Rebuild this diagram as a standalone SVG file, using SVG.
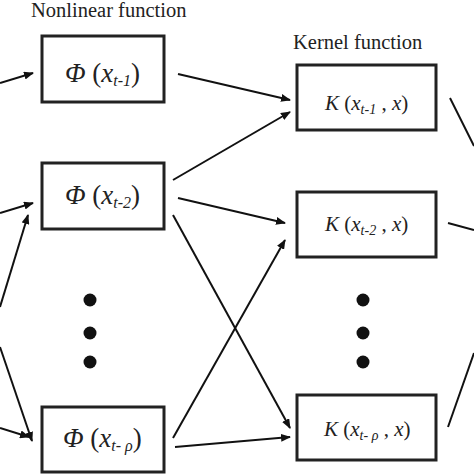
<svg xmlns="http://www.w3.org/2000/svg" width="474" height="474" viewBox="0 0 474 474">
<style>
.box{fill:#fff;stroke:#222;stroke-width:3}
.ln{stroke:#111;stroke-width:2;fill:none}
.arr{marker-end:url(#ah)}
.lbl{font-family:"Liberation Serif","Times New Roman",serif;font-size:20.5px;fill:#222}
.phi{font-family:"Liberation Serif","Times New Roman",serif;font-size:27px;fill:#222;font-style:italic}
.ker{font-family:"Liberation Serif","Times New Roman",serif;font-size:21px;fill:#222;font-style:italic}
.up{font-style:normal}
.s1{font-size:16px}
.s2{font-size:14px}
.dot{fill:#111}
</style>
<defs>
<marker id="ah" markerUnits="userSpaceOnUse" markerWidth="10" markerHeight="8" refX="9" refY="4" orient="auto">
<path d="M0,0 L10,4 L0,8 z" fill="#111"/>
</marker>
</defs>
<rect width="474" height="474" fill="#fff"/>
<text class="lbl" x="31" y="17">Nonlinear function</text>
<text class="lbl" x="293" y="49">Kernel function</text>
<g id="connectors">
<line class="ln arr" x1="0" y1="83" x2="33" y2="73"/>
<line class="ln arr" x1="0" y1="213" x2="33" y2="203"/>
<line class="ln arr" x1="0" y1="307" x2="28" y2="215"/>
<line class="ln arr" x1="0" y1="347" x2="32" y2="441"/>
<line class="ln arr" x1="0" y1="428" x2="29" y2="437"/>
<line class="ln arr" x1="178" y1="74" x2="290" y2="100"/>
<line class="ln arr" x1="173" y1="180" x2="290" y2="112"/>
<line class="ln arr" x1="178" y1="198" x2="285" y2="223"/>
<line class="ln arr" x1="173" y1="215" x2="290" y2="428"/>
<line class="ln arr" x1="173" y1="438" x2="285" y2="240"/>
<line class="ln arr" x1="175" y1="447" x2="290" y2="437"/>
<line class="ln" x1="450" y1="98" x2="474" y2="146"/>
<line class="ln" x1="448" y1="223" x2="474" y2="230"/>
<line class="ln" x1="448" y1="427" x2="474" y2="353"/>
</g>
<g id="phi1">
<rect class="box" x="42" y="36" width="122" height="66"/>
<text class="phi" x="65" y="82">Φ <tspan class="up">(</tspan>x<tspan class="s1" dy="4">t-1</tspan><tspan class="up" dy="-4">)</tspan></text>
</g>
<g id="phi2">
<rect class="box" x="42" y="163" width="122" height="66"/>
<text class="phi" x="65" y="204">Φ <tspan class="up">(</tspan>x<tspan class="s1" dy="4">t-2</tspan><tspan class="up" dy="-4">)</tspan></text>
</g>
<g id="phi3">
<rect class="box" x="42" y="407" width="122" height="65"/>
<text class="phi" x="63" y="447">Φ <tspan class="up">(</tspan>x<tspan class="s1" dy="4">t- ρ</tspan><tspan class="up" dy="-4">)</tspan></text>
</g>
<g id="dots1">
<circle class="dot" cx="90" cy="300" r="6.5"/>
<circle class="dot" cx="90" cy="333" r="6.5"/>
<circle class="dot" cx="90" cy="362" r="6.5"/>
</g>
<g id="k1">
<rect class="box" x="297" y="65" width="139" height="65"/>
<text class="ker" x="325" y="110">K <tspan class="up">(</tspan>x<tspan class="s2" dy="4">t-1</tspan><tspan dy="-4"> <tspan class="up">,</tspan> x<tspan class="up">)</tspan></tspan></text>
</g>
<g id="k2">
<rect class="box" x="297" y="192" width="139" height="65"/>
<text class="ker" x="325" y="231">K <tspan class="up">(</tspan>x<tspan class="s2" dy="4">t-2</tspan><tspan dy="-4"> <tspan class="up">,</tspan> x<tspan class="up">)</tspan></tspan></text>
</g>
<g id="k3">
<rect class="box" x="297" y="395" width="139" height="65"/>
<text class="ker" x="324" y="436">K <tspan class="up">(</tspan>x<tspan class="s2" dy="4">t- ρ</tspan><tspan dy="-4"> <tspan class="up">,</tspan> x<tspan class="up">)</tspan></tspan></text>
</g>
<g id="dots2">
<circle class="dot" cx="363" cy="300" r="6.5"/>
<circle class="dot" cx="363" cy="333" r="6.5"/>
<circle class="dot" cx="363" cy="362" r="6.5"/>
</g>
</svg>
